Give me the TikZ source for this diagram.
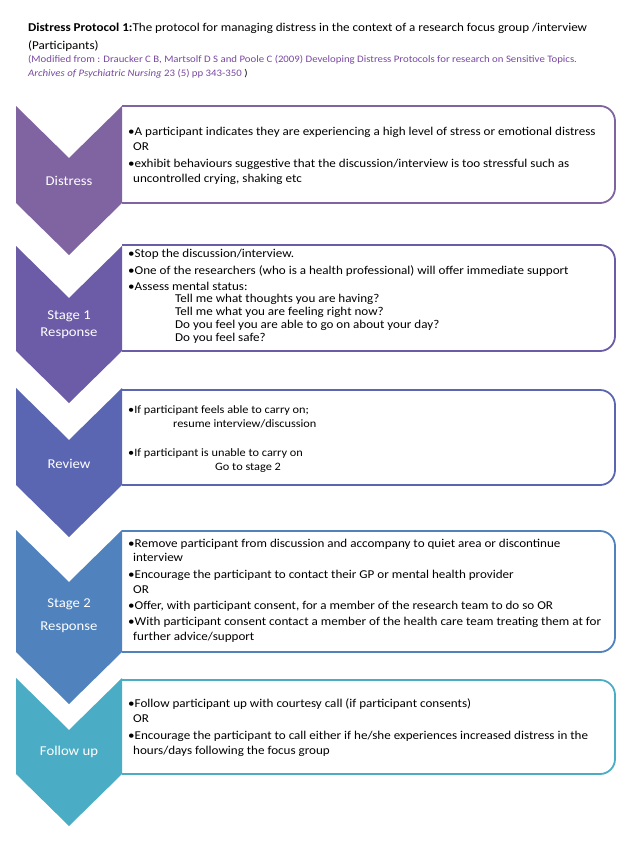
\documentclass[tikz,border=0pt]{standalone}
\usepackage{fontspec}
\setmainfont{Carlito}[FakeStretch=1.09]
\definecolor{distresscol}{RGB}{128,100,162}
\definecolor{stageonecol}{RGB}{108,91,167}
\definecolor{reviewcol}{RGB}{90,102,178}
\definecolor{stagetwocol}{RGB}{80,130,190}
\definecolor{followcol}{RGB}{75,172,198}
\definecolor{citecol}{RGB}{120,72,160}

\begin{document}
\begin{tikzpicture}[x=1pt,y=-1pt,
  txt/.style={anchor=base west,inner sep=0pt,font=\fontsize{12}{14}\selectfont},
  lbl/.style={text=white,align=center,font=\fontsize{13.5}{17}\selectfont},
  card/.style={draw,line width=1.8pt,rounded corners=15pt}]
\useasboundingbox (0,0) rectangle (638,851);

\node[anchor=base west,inner sep=0pt,font=\fontsize{12}{14}\selectfont] (title) at (28,32) {\textbf{Distress Protocol 1:}The protocol for managing distress in the context of a research focus group /interview};
\node[anchor=base west,inner sep=0pt,font=\fontsize{12}{14}\selectfont] (title2) at (28,49) {(Participants)};
\node[anchor=base west,inner sep=0pt,text=citecol,font=\fontsize{9.9}{11}\selectfont] (cite) at (28,63) {(Modified from : Draucker C B, Martsolf D S and Poole C (2009) Developing Distress Protocols for research on Sensitive Topics.};
\node[anchor=base west,inner sep=0pt,text=citecol,font=\fontsize{9.9}{11}\selectfont] (cite2) at (28,77) {\textit{Archives of Psychiatric Nursing} 23 (5) pp 343-350 \textcolor{black}{)}};

\draw[card,distresscol] (122,106) -- (615,106) -- (615,203) -- (122,203);
\draw[card,stageonecol] (122,245) -- (615,245) -- (615,351) -- (122,351);
\draw[card,reviewcol] (122,390) -- (615,390) -- (615,485) -- (122,485);
\draw[card,stagetwocol] (122,531) -- (615,531) -- (615,652) -- (122,652);
\draw[card,followcol] (122,680) -- (615,680) -- (615,774) -- (122,774);

\fill[distresscol] (16,106) -- (69,158) -- (122,106) -- (122,203) -- (69,255) -- (16,203) -- cycle;
\fill[stageonecol] (16,246) -- (69,298) -- (122,246) -- (122,351) -- (69,403) -- (16,351) -- cycle;
\fill[reviewcol] (16,388) -- (69,440) -- (122,388) -- (122,485) -- (69,537) -- (16,485) -- cycle;
\fill[stagetwocol] (16,530) -- (69,582) -- (122,530) -- (122,652) -- (69,704) -- (16,652) -- cycle;
\fill[followcol] (16,678) -- (69,730) -- (122,678) -- (122,774) -- (69,826) -- (16,774) -- cycle;

\node[lbl] (distress) at (69,181) {Distress};
\node[lbl] (stage1) at (69,325) {Stage 1\\Response};
\node[lbl] (review) at (69,464) {Review};
\node[lbl,font=\fontsize{13.5}{23}\selectfont] (stage2) at (69,616) {Stage 2\\Response};
\node[lbl] (follow) at (69,752) {Follow up};

\node[txt] (d1) at (128,135) {\textbullet A participant indicates they are experiencing a high level of stress or emotional distress};
\node[txt] (d2) at (133,150) {OR};
\node[txt] (d3) at (128,167) {\textbullet exhibit behaviours suggestive that the discussion/interview is too stressful such as};
\node[txt] (d4) at (133,182) {uncontrolled crying, shaking etc};

\node[txt] (s1) at (128,257) {\textbullet Stop the discussion/interview.};
\node[txt] (s2) at (128,274) {\textbullet One of the researchers (who is a health professional) will offer immediate support};
\node[txt] (s3) at (128,290) {\textbullet Assess mental status:};
\node[txt] (s4) at (175,302) {Tell me what thoughts you are having?};
\node[txt] (s5) at (175,315) {Tell me what you are feeling right now?};
\node[txt] (s6) at (175,328) {Do you feel you are able to go on about your day?};
\node[txt] (s7) at (175,341) {Do you feel safe?};

\node[txt,font=\fontsize{11.3}{13}\selectfont] (r1) at (128,413) {\textbullet If participant feels able to carry on;};
\node[txt,font=\fontsize{11.3}{13}\selectfont] (r2) at (173,427) {resume interview/discussion};
\node[txt,font=\fontsize{11.3}{13}\selectfont] (r3) at (128,456) {\textbullet If participant is unable to carry on};
\node[txt,font=\fontsize{11.3}{13}\selectfont] (r4) at (215,470) {Go to stage 2};

\node[txt] (t1) at (128,547) {\textbullet Remove participant from discussion and accompany to quiet area or discontinue};
\node[txt] (t2) at (133,561) {interview};
\node[txt] (t3) at (128,578) {\textbullet Encourage the participant to contact their GP or mental health provider};
\node[txt] (t4) at (133,593) {OR};
\node[txt] (t5) at (128,609) {\textbullet Offer, with participant consent, for a member of the research team to do so OR};
\node[txt] (t6) at (128,625) {\textbullet With participant consent contact a member of the health care team treating them at for};
\node[txt] (t7) at (133,640) {further advice/support};

\node[txt] (f1) at (128,707) {\textbullet Follow participant up with courtesy call (if participant consents)};
\node[txt] (f2) at (133,722) {OR};
\node[txt] (f3) at (128,739) {\textbullet Encourage the participant to call either if he/she experiences increased distress in the};
\node[txt] (f4) at (133,754) {hours/days following the focus group};
\end{tikzpicture}
\end{document}
